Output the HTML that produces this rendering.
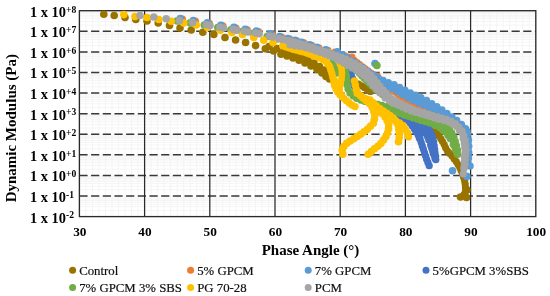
<!DOCTYPE html>
<html><head><meta charset="utf-8"><style>
html,body{margin:0;padding:0;background:#fff;width:550px;height:296px;overflow:hidden}
svg{display:block}
text{font-family:"Liberation Serif","Times New Roman",serif;fill:#000}
.tk{font-size:14.4px;font-weight:bold}
.sup{font-size:9.6px}
.tx{font-size:13.3px;font-weight:bold}
.ttl{font-size:15px;font-weight:bold}
.lg{font-size:12.8px;fill:#111;stroke:#111;stroke-width:0.2px}
</style></head><body>
<svg width="550" height="296" viewBox="0 0 550 296">
<rect width="550" height="296" fill="#fff"/>
<path d="M85.92 10.70V216.60M92.44 10.70V216.60M98.96 10.70V216.60M105.48 10.70V216.60M112.00 10.70V216.60M118.52 10.70V216.60M125.04 10.70V216.60M131.56 10.70V216.60M138.08 10.70V216.60M151.12 10.70V216.60M157.64 10.70V216.60M164.16 10.70V216.60M170.68 10.70V216.60M177.20 10.70V216.60M183.72 10.70V216.60M190.24 10.70V216.60M196.76 10.70V216.60M203.28 10.70V216.60M216.32 10.70V216.60M222.84 10.70V216.60M229.36 10.70V216.60M235.88 10.70V216.60M242.40 10.70V216.60M248.92 10.70V216.60M255.44 10.70V216.60M261.96 10.70V216.60M268.48 10.70V216.60M281.52 10.70V216.60M288.04 10.70V216.60M294.56 10.70V216.60M301.08 10.70V216.60M307.60 10.70V216.60M314.12 10.70V216.60M320.64 10.70V216.60M327.16 10.70V216.60M333.68 10.70V216.60M346.72 10.70V216.60M353.24 10.70V216.60M359.76 10.70V216.60M366.28 10.70V216.60M372.80 10.70V216.60M379.32 10.70V216.60M385.84 10.70V216.60M392.36 10.70V216.60M398.88 10.70V216.60M411.92 10.70V216.60M418.44 10.70V216.60M424.96 10.70V216.60M431.48 10.70V216.60M438.00 10.70V216.60M444.52 10.70V216.60M451.04 10.70V216.60M457.56 10.70V216.60M464.08 10.70V216.60M477.12 10.70V216.60M483.64 10.70V216.60M490.16 10.70V216.60M496.68 10.70V216.60M503.20 10.70V216.60M509.72 10.70V216.60M516.24 10.70V216.60M522.76 10.70V216.60M529.28 10.70V216.60M79.40 210.40H535.80M79.40 206.78H535.80M79.40 204.20H535.80M79.40 202.21H535.80M79.40 200.58H535.80M79.40 199.20H535.80M79.40 198.01H535.80M79.40 196.95H535.80M79.40 189.81H535.80M79.40 186.19H535.80M79.40 183.61H535.80M79.40 181.62H535.80M79.40 179.99H535.80M79.40 178.61H535.80M79.40 177.42H535.80M79.40 176.36H535.80M79.40 169.22H535.80M79.40 165.60H535.80M79.40 163.02H535.80M79.40 161.03H535.80M79.40 159.40H535.80M79.40 158.02H535.80M79.40 156.83H535.80M79.40 155.77H535.80M79.40 148.63H535.80M79.40 145.01H535.80M79.40 142.43H535.80M79.40 140.44H535.80M79.40 138.81H535.80M79.40 137.43H535.80M79.40 136.24H535.80M79.40 135.18H535.80M79.40 128.04H535.80M79.40 124.42H535.80M79.40 121.84H535.80M79.40 119.85H535.80M79.40 118.22H535.80M79.40 116.84H535.80M79.40 115.65H535.80M79.40 114.59H535.80M79.40 107.45H535.80M79.40 103.83H535.80M79.40 101.25H535.80M79.40 99.26H535.80M79.40 97.63H535.80M79.40 96.25H535.80M79.40 95.06H535.80M79.40 94.00H535.80M79.40 86.86H535.80M79.40 83.24H535.80M79.40 80.66H535.80M79.40 78.67H535.80M79.40 77.04H535.80M79.40 75.66H535.80M79.40 74.47H535.80M79.40 73.41H535.80M79.40 66.27H535.80M79.40 62.65H535.80M79.40 60.07H535.80M79.40 58.08H535.80M79.40 56.45H535.80M79.40 55.07H535.80M79.40 53.88H535.80M79.40 52.82H535.80M79.40 45.68H535.80M79.40 42.06H535.80M79.40 39.48H535.80M79.40 37.49H535.80M79.40 35.86H535.80M79.40 34.48H535.80M79.40 33.29H535.80M79.40 32.23H535.80M79.40 25.09H535.80M79.40 21.47H535.80M79.40 18.89H535.80M79.40 16.90H535.80M79.40 15.27H535.80M79.40 13.89H535.80M79.40 12.70H535.80M79.40 11.64H535.80" stroke="#f2f2f2" stroke-width="0.8" fill="none"/><path d="M79.40 196.01H535.80M79.40 175.42H535.80M79.40 154.83H535.80M79.40 134.24H535.80M79.40 113.65H535.80M79.40 93.06H535.80M79.40 72.47H535.80M79.40 51.88H535.80M79.40 31.29H535.80" stroke="#383838" stroke-width="1.5" stroke-dasharray="8.2 3.48" fill="none"/><path d="M144.60 10.70V216.60M209.80 10.70V216.60M275.00 10.70V216.60M340.20 10.70V216.60M405.40 10.70V216.60M470.60 10.70V216.60" stroke="#2a2a2a" stroke-width="1.25" fill="none"/><rect x="79.40" y="10.70" width="456.40" height="205.90" stroke="#2a2a2a" stroke-width="1.35" fill="none"/><g fill="#997300"><circle cx="103.8" cy="14.2" r="3.8"/><circle cx="114.2" cy="15.5" r="3.8"/><circle cx="125.0" cy="17.5" r="3.8"/><circle cx="135.8" cy="19.5" r="3.8"/><circle cx="147.0" cy="21.0" r="3.8"/><circle cx="158.2" cy="23.0" r="3.8"/><circle cx="169.5" cy="25.5" r="3.8"/><circle cx="180.0" cy="28.0" r="3.8"/><circle cx="191.2" cy="30.0" r="3.8"/><circle cx="202.8" cy="32.2" r="3.8"/><circle cx="213.8" cy="34.4" r="3.8"/><circle cx="225.0" cy="37.5" r="3.8"/><circle cx="235.6" cy="40.0" r="3.8"/><circle cx="245.6" cy="42.5" r="3.8"/><circle cx="255.6" cy="45.6" r="3.8"/><circle cx="265.3" cy="48.7" r="3.8"/><circle cx="273.5" cy="51.0" r="3.8"/><circle cx="281.0" cy="54.3" r="3.8"/><circle cx="287.0" cy="56.0" r="3.8"/><circle cx="293.0" cy="58.0" r="3.8"/><circle cx="299.0" cy="60.3" r="3.8"/><circle cx="305.0" cy="63.0" r="3.8"/><circle cx="311.0" cy="66.0" r="3.8"/><circle cx="317.0" cy="69.5" r="3.8"/><circle cx="322.0" cy="73.0" r="3.8"/><circle cx="326.0" cy="76.5" r="3.8"/><circle cx="329.5" cy="79.0" r="3.8"/><circle cx="269.0" cy="46.5" r="3.8"/><circle cx="277.0" cy="48.5" r="3.8"/><circle cx="284.0" cy="50.5" r="3.8"/><circle cx="290.0" cy="52.3" r="3.8"/><circle cx="296.0" cy="54.3" r="3.8"/><circle cx="302.0" cy="56.8" r="3.8"/><circle cx="308.0" cy="59.8" r="3.8"/><circle cx="314.0" cy="63.0" r="3.8"/><circle cx="319.5" cy="66.5" r="3.8"/><circle cx="324.0" cy="70.0" r="3.8"/><circle cx="328.0" cy="74.0" r="3.8"/><circle cx="358.5" cy="84.0" r="3.6"/><circle cx="361.5" cy="85.8" r="3.6"/><circle cx="364.5" cy="87.7" r="3.6"/><circle cx="367.4" cy="89.6" r="3.6"/><circle cx="370.4" cy="91.4" r="3.6"/><circle cx="398.0" cy="118.0" r="3.6"/><circle cx="401.4" cy="118.9" r="3.6"/><circle cx="404.8" cy="119.8" r="3.6"/><circle cx="408.1" cy="120.7" r="3.6"/><circle cx="411.5" cy="121.6" r="3.6"/><circle cx="414.9" cy="122.5" r="3.6"/><circle cx="418.3" cy="123.5" r="3.6"/><circle cx="421.6" cy="124.5" r="3.6"/><circle cx="424.9" cy="125.6" r="3.6"/><circle cx="428.2" cy="126.9" r="3.6"/><circle cx="431.4" cy="128.3" r="3.6"/><circle cx="434.1" cy="130.4" r="3.6"/><circle cx="436.7" cy="132.8" r="3.6"/><circle cx="438.7" cy="135.7" r="3.6"/><circle cx="440.7" cy="138.6" r="3.6"/><circle cx="442.5" cy="141.5" r="3.6"/><circle cx="444.2" cy="144.6" r="3.6"/><circle cx="445.6" cy="147.8" r="3.6"/><circle cx="447.3" cy="150.8" r="3.6"/><circle cx="449.6" cy="153.4" r="3.6"/><circle cx="452.0" cy="156.0" r="3.6"/><circle cx="454.1" cy="158.8" r="3.6"/><circle cx="456.2" cy="161.6" r="3.6"/><circle cx="458.0" cy="164.6" r="3.6"/><circle cx="459.8" cy="167.6" r="3.6"/><circle cx="461.2" cy="170.8" r="3.6"/><circle cx="462.5" cy="174.0" r="3.6"/><circle cx="463.6" cy="177.3" r="3.6"/><circle cx="464.6" cy="180.7" r="3.6"/><circle cx="465.2" cy="184.1" r="3.6"/><circle cx="465.5" cy="187.6" r="3.6"/><circle cx="465.5" cy="191.1" r="3.6"/><circle cx="464.2" cy="194.3" r="3.6"/><circle cx="460.5" cy="197.0" r="3.8"/><circle cx="466.5" cy="197.5" r="3.8"/><circle cx="467.0" cy="190.0" r="3.8"/></g><g fill="#ED7D31"><circle cx="352.0" cy="56.8" r="3.4"/><circle cx="377.5" cy="76.0" r="3.4"/><circle cx="182.3" cy="19.3" r="3.8"/><circle cx="195.3" cy="21.3" r="3.8"/><circle cx="209.3" cy="23.6" r="3.8"/><circle cx="222.8" cy="26.0" r="3.8"/><circle cx="235.9" cy="28.2" r="3.8"/><circle cx="247.2" cy="30.1" r="3.8"/><circle cx="258.4" cy="31.8" r="3.8"/><circle cx="272.2" cy="34.9" r="3.8"/><circle cx="281.6" cy="37.4" r="3.8"/><circle cx="289.8" cy="39.3" r="3.8"/><circle cx="297.2" cy="41.2" r="3.8"/><circle cx="303.8" cy="43.0" r="3.8"/><circle cx="311.6" cy="45.5" r="3.8"/><circle cx="318.8" cy="48.0" r="3.8"/><circle cx="327.8" cy="50.5" r="3.8"/><circle cx="335.0" cy="52.0" r="3.6"/><circle cx="338.2" cy="53.3" r="3.6"/><circle cx="341.5" cy="54.6" r="3.6"/><circle cx="344.7" cy="55.9" r="3.6"/><circle cx="348.0" cy="57.2" r="3.6"/><circle cx="351.2" cy="58.5" r="3.6"/><circle cx="354.2" cy="60.3" r="3.6"/><circle cx="357.0" cy="62.5" r="3.6"/><circle cx="359.7" cy="64.6" r="3.6"/><circle cx="362.5" cy="66.8" r="3.6"/><circle cx="365.2" cy="68.9" r="3.6"/><circle cx="368.1" cy="71.0" r="3.6"/><circle cx="370.9" cy="73.0" r="3.6"/><circle cx="373.8" cy="75.0" r="3.6"/><circle cx="376.6" cy="77.0" r="3.6"/><circle cx="379.4" cy="79.2" r="3.6"/><circle cx="382.1" cy="81.4" r="3.6"/><circle cx="384.8" cy="83.7" r="3.6"/><circle cx="387.5" cy="85.9" r="3.6"/><circle cx="390.2" cy="88.1" r="3.6"/><circle cx="392.9" cy="90.3" r="3.6"/><circle cx="395.7" cy="92.5" r="3.6"/><circle cx="398.4" cy="94.6" r="3.6"/><circle cx="401.2" cy="96.8" r="3.6"/><circle cx="403.9" cy="98.9" r="3.6"/><circle cx="407.1" cy="100.4" r="3.6"/><circle cx="410.3" cy="101.8" r="3.6"/><circle cx="413.5" cy="103.2" r="3.6"/><circle cx="416.8" cy="104.6" r="3.6"/><circle cx="420.0" cy="106.0" r="3.6"/><circle cx="423.2" cy="107.3" r="3.6"/><circle cx="426.5" cy="108.6" r="3.6"/><circle cx="429.7" cy="109.9" r="3.6"/><circle cx="433.0" cy="111.2" r="3.6"/><circle cx="436.2" cy="112.5" r="3.6"/><circle cx="439.5" cy="113.8" r="3.6"/><circle cx="442.6" cy="115.2" r="3.6"/><circle cx="445.8" cy="116.7" r="3.6"/><circle cx="449.0" cy="118.2" r="3.6"/><circle cx="452.2" cy="119.7" r="3.6"/><circle cx="455.2" cy="121.3" r="3.6"/><circle cx="457.4" cy="124.0" r="3.6"/><circle cx="459.5" cy="126.8" r="3.6"/><circle cx="461.7" cy="129.6" r="3.6"/><circle cx="462.9" cy="132.8" r="3.6"/><circle cx="463.9" cy="136.2" r="3.6"/><circle cx="464.9" cy="139.5" r="3.6"/><circle cx="465.2" cy="143.0" r="3.6"/><circle cx="465.3" cy="146.5" r="3.6"/><circle cx="465.5" cy="150.0" r="3.6"/><circle cx="465.2" cy="153.5" r="3.6"/><circle cx="464.8" cy="157.0" r="3.6"/></g><g fill="#5B9BD5"><circle cx="180.3" cy="18.5" r="3.8"/><circle cx="193.3" cy="20.5" r="3.8"/><circle cx="207.3" cy="22.8" r="3.8"/><circle cx="220.8" cy="25.2" r="3.8"/><circle cx="233.9" cy="27.4" r="3.8"/><circle cx="245.2" cy="29.2" r="3.8"/><circle cx="256.4" cy="31.0" r="3.8"/><circle cx="270.2" cy="34.1" r="3.8"/><circle cx="279.6" cy="36.6" r="3.8"/><circle cx="287.8" cy="38.5" r="3.8"/><circle cx="295.2" cy="40.4" r="3.8"/><circle cx="301.8" cy="42.2" r="3.8"/><circle cx="309.6" cy="44.8" r="3.8"/><circle cx="316.8" cy="47.2" r="3.8"/><circle cx="325.8" cy="49.8" r="3.8"/><circle cx="337.5" cy="51.5" r="3.6"/><circle cx="342.6" cy="54.6" r="3.6"/><circle cx="347.7" cy="57.8" r="3.6"/><circle cx="352.8" cy="61.0" r="3.6"/><circle cx="357.8" cy="64.3" r="3.6"/><circle cx="362.8" cy="67.6" r="3.6"/><circle cx="367.8" cy="71.0" r="3.6"/><circle cx="372.8" cy="74.3" r="3.6"/><circle cx="374.8" cy="76.6" r="3.6"/><circle cx="377.8" cy="77.5" r="3.6"/><circle cx="379.6" cy="80.2" r="3.6"/><circle cx="383.1" cy="80.4" r="3.6"/><circle cx="384.2" cy="84.1" r="3.6"/><circle cx="388.4" cy="82.6" r="3.6"/><circle cx="389.7" cy="87.0" r="3.6"/><circle cx="394.1" cy="84.6" r="3.6"/><circle cx="395.9" cy="87.9" r="3.6"/><circle cx="392.3" cy="88.7" r="3.6"/><circle cx="399.7" cy="87.3" r="3.6"/><circle cx="401.1" cy="90.9" r="3.6"/><circle cx="397.3" cy="91.7" r="3.6"/><circle cx="405.0" cy="90.1" r="3.6"/><circle cx="406.3" cy="93.9" r="3.6"/><circle cx="402.4" cy="94.7" r="3.6"/><circle cx="410.3" cy="92.9" r="3.6"/><circle cx="411.6" cy="96.8" r="3.6"/><circle cx="407.6" cy="97.8" r="3.6"/><circle cx="415.5" cy="95.2" r="3.6"/><circle cx="417.1" cy="99.1" r="3.6"/><circle cx="413.3" cy="100.6" r="3.6"/><circle cx="421.0" cy="97.5" r="3.6"/><circle cx="422.7" cy="101.4" r="3.6"/><circle cx="418.8" cy="102.9" r="3.6"/><circle cx="426.6" cy="100.3" r="3.6"/><circle cx="428.0" cy="104.2" r="3.6"/><circle cx="424.0" cy="105.2" r="3.6"/><circle cx="431.8" cy="103.5" r="3.6"/><circle cx="433.3" cy="107.0" r="3.6"/><circle cx="429.5" cy="107.7" r="3.6"/><circle cx="436.9" cy="106.6" r="3.6"/><circle cx="438.6" cy="109.8" r="3.6"/><circle cx="435.0" cy="110.2" r="3.6"/><circle cx="442.0" cy="109.9" r="3.6"/><circle cx="442.7" cy="114.5" r="3.6"/><circle cx="447.0" cy="113.3" r="3.6"/><circle cx="447.9" cy="117.5" r="3.6"/><circle cx="452.0" cy="116.8" r="3.6"/><circle cx="452.9" cy="120.7" r="3.6"/><circle cx="456.8" cy="120.4" r="3.6"/><circle cx="458.0" cy="123.9" r="3.6"/><circle cx="461.5" cy="124.3" r="3.6"/><circle cx="462.6" cy="127.5" r="3.6"/><circle cx="465.7" cy="128.6" r="3.6"/><circle cx="467.2" cy="131.3" r="3.6"/><circle cx="467.6" cy="134.3" r="3.6"/><circle cx="468.6" cy="140.2" r="3.6"/><circle cx="468.9" cy="146.2" r="3.6"/><circle cx="468.8" cy="152.2" r="3.6"/><circle cx="468.5" cy="158.2" r="3.6"/><circle cx="468.2" cy="164.2" r="3.6"/><circle cx="375.0" cy="63.6" r="3.8"/><circle cx="452.5" cy="170.8" r="3.8"/><circle cx="470.0" cy="166.0" r="3.8"/><circle cx="466.9" cy="176.4" r="3.8"/></g><g fill="#4472C4"><circle cx="350.0" cy="72.0" r="3.6"/><circle cx="351.3" cy="75.2" r="3.6"/><circle cx="352.6" cy="78.5" r="3.6"/><circle cx="353.2" cy="81.9" r="3.6"/><circle cx="353.9" cy="85.4" r="3.6"/><circle cx="355.3" cy="88.6" r="3.6"/><circle cx="356.8" cy="91.7" r="3.6"/><circle cx="358.7" cy="94.6" r="3.6"/><circle cx="361.3" cy="96.9" r="3.6"/><circle cx="364.0" cy="99.2" r="3.6"/><circle cx="366.7" cy="101.4" r="3.6"/><circle cx="369.8" cy="102.9" r="3.6"/><circle cx="373.0" cy="104.5" r="3.6"/><circle cx="376.1" cy="106.0" r="3.6"/><circle cx="379.2" cy="107.6" r="3.6"/><circle cx="382.4" cy="109.1" r="3.6"/><circle cx="385.6" cy="110.5" r="3.6"/><circle cx="388.8" cy="112.0" r="3.6"/><circle cx="392.1" cy="113.2" r="3.6"/><circle cx="395.4" cy="114.3" r="3.6"/><circle cx="398.7" cy="115.5" r="3.6"/><circle cx="401.9" cy="116.8" r="3.6"/><circle cx="405.3" cy="117.7" r="3.6"/><circle cx="406.7" cy="119.0" r="3.6"/><circle cx="408.6" cy="118.8" r="3.6"/><circle cx="409.8" cy="120.6" r="3.6"/><circle cx="404.2" cy="117.1" r="3.6"/><circle cx="405.4" cy="118.6" r="3.6"/><circle cx="407.4" cy="118.4" r="3.6"/><circle cx="408.4" cy="120.5" r="3.6"/><circle cx="410.6" cy="120.5" r="3.6"/><circle cx="410.2" cy="123.1" r="3.6"/><circle cx="413.0" cy="123.1" r="3.6"/><circle cx="412.2" cy="126.0" r="3.6"/><circle cx="415.3" cy="125.8" r="3.6"/><circle cx="414.2" cy="128.8" r="3.6"/><circle cx="416.9" cy="129.1" r="3.6"/><circle cx="415.9" cy="131.7" r="3.6"/><circle cx="418.4" cy="132.3" r="3.6"/><circle cx="417.9" cy="134.5" r="3.6"/><circle cx="419.5" cy="135.7" r="3.6"/><circle cx="419.2" cy="137.7" r="3.6"/><circle cx="420.1" cy="139.2" r="3.6"/><circle cx="421.2" cy="142.5" r="3.6"/><circle cx="422.3" cy="145.9" r="3.6"/><circle cx="423.4" cy="149.2" r="3.6"/><circle cx="424.5" cy="152.5" r="3.6"/><circle cx="425.5" cy="155.8" r="3.6"/><circle cx="426.6" cy="159.2" r="3.6"/><circle cx="427.9" cy="162.4" r="3.6"/><circle cx="429.2" cy="165.7" r="3.6"/><circle cx="410.3" cy="117.2" r="3.6"/><circle cx="411.3" cy="119.5" r="3.6"/><circle cx="413.6" cy="118.4" r="3.6"/><circle cx="414.6" cy="120.7" r="3.6"/><circle cx="416.9" cy="119.6" r="3.6"/><circle cx="417.9" cy="121.9" r="3.6"/><circle cx="420.2" cy="121.4" r="3.6"/><circle cx="420.1" cy="124.3" r="3.6"/><circle cx="423.1" cy="123.4" r="3.6"/><circle cx="422.5" cy="126.8" r="3.6"/><circle cx="426.0" cy="125.4" r="3.6"/><circle cx="424.9" cy="129.4" r="3.6"/><circle cx="428.4" cy="128.8" r="3.6"/><circle cx="427.4" cy="131.3" r="3.6"/><circle cx="424.8" cy="130.8" r="3.6"/><circle cx="430.3" cy="131.8" r="3.6"/><circle cx="429.2" cy="134.4" r="3.6"/><circle cx="426.3" cy="134.0" r="3.6"/><circle cx="432.0" cy="135.3" r="3.6"/><circle cx="430.3" cy="137.7" r="3.6"/><circle cx="427.6" cy="136.7" r="3.6"/><circle cx="432.9" cy="138.7" r="3.6"/><circle cx="431.4" cy="141.0" r="3.6"/><circle cx="428.8" cy="140.0" r="3.6"/><circle cx="433.7" cy="142.1" r="3.6"/><circle cx="430.6" cy="144.9" r="3.6"/><circle cx="434.2" cy="145.8" r="3.6"/><circle cx="431.6" cy="148.1" r="3.6"/><circle cx="434.6" cy="149.3" r="3.6"/><circle cx="432.7" cy="151.5" r="3.6"/><circle cx="435.0" cy="152.7" r="3.6"/><circle cx="433.9" cy="154.8" r="3.6"/><circle cx="435.6" cy="156.2" r="3.6"/><circle cx="435.0" cy="158.2" r="3.6"/><circle cx="435.8" cy="159.7" r="3.6"/></g><g fill="#70AD47"><circle cx="177.3" cy="20.9" r="3.8"/><circle cx="190.3" cy="22.9" r="3.8"/><circle cx="204.3" cy="25.1" r="3.8"/><circle cx="217.8" cy="27.6" r="3.8"/><circle cx="230.9" cy="29.8" r="3.8"/><circle cx="242.2" cy="31.6" r="3.8"/><circle cx="253.4" cy="33.4" r="3.8"/><circle cx="267.2" cy="36.5" r="3.8"/><circle cx="276.6" cy="39.0" r="3.8"/><circle cx="284.8" cy="40.9" r="3.8"/><circle cx="292.2" cy="42.8" r="3.8"/><circle cx="298.8" cy="44.6" r="3.8"/><circle cx="306.6" cy="47.1" r="3.8"/><circle cx="313.8" cy="49.6" r="3.8"/><circle cx="322.8" cy="52.1" r="3.8"/><circle cx="333.0" cy="60.0" r="3.6"/><circle cx="335.6" cy="63.5" r="3.6"/><circle cx="339.3" cy="66.0" r="3.6"/><circle cx="342.7" cy="68.7" r="3.6"/><circle cx="345.8" cy="71.8" r="3.6"/><circle cx="346.5" cy="76.1" r="3.6"/><circle cx="347.0" cy="80.4" r="3.6"/><circle cx="347.0" cy="84.8" r="3.6"/><circle cx="348.0" cy="89.1" r="3.6"/><circle cx="350.0" cy="92.9" r="3.6"/><circle cx="353.2" cy="95.9" r="3.6"/><circle cx="356.7" cy="98.5" r="3.6"/><circle cx="360.8" cy="100.1" r="3.6"/><circle cx="364.9" cy="101.5" r="3.6"/><circle cx="369.2" cy="102.4" r="3.6"/><circle cx="371.2" cy="103.6" r="3.6"/><circle cx="373.5" cy="103.4" r="3.6"/><circle cx="375.4" cy="104.9" r="3.6"/><circle cx="377.8" cy="104.4" r="3.6"/><circle cx="379.6" cy="106.3" r="3.6"/><circle cx="382.1" cy="105.4" r="3.6"/><circle cx="383.8" cy="107.6" r="3.6"/><circle cx="386.4" cy="106.7" r="3.6"/><circle cx="387.9" cy="109.1" r="3.6"/><circle cx="390.5" cy="108.1" r="3.6"/><circle cx="392.1" cy="110.5" r="3.6"/><circle cx="394.7" cy="109.5" r="3.6"/><circle cx="396.2" cy="111.9" r="3.6"/><circle cx="398.9" cy="111.1" r="3.6"/><circle cx="400.2" cy="113.6" r="3.6"/><circle cx="402.9" cy="112.7" r="3.6"/><circle cx="404.3" cy="115.2" r="3.6"/><circle cx="407.0" cy="114.1" r="3.6"/><circle cx="408.6" cy="116.5" r="3.6"/><circle cx="411.3" cy="115.1" r="3.6"/><circle cx="412.8" cy="117.8" r="3.6"/><circle cx="415.6" cy="116.2" r="3.6"/><circle cx="417.0" cy="119.1" r="3.6"/><circle cx="419.8" cy="117.3" r="3.6"/><circle cx="421.2" cy="120.4" r="3.6"/><circle cx="424.1" cy="118.3" r="3.6"/><circle cx="425.5" cy="121.7" r="3.6"/><circle cx="428.4" cy="119.3" r="3.6"/><circle cx="429.7" cy="123.0" r="3.6"/><circle cx="432.7" cy="120.3" r="3.6"/><circle cx="433.9" cy="124.3" r="3.6"/><circle cx="437.2" cy="121.6" r="3.6"/><circle cx="438.4" cy="124.4" r="3.6"/><circle cx="435.5" cy="125.4" r="3.6"/><circle cx="441.3" cy="123.1" r="3.6"/><circle cx="442.4" cy="126.1" r="3.6"/><circle cx="439.5" cy="127.4" r="3.6"/><circle cx="445.5" cy="125.7" r="3.6"/><circle cx="445.7" cy="129.1" r="3.6"/><circle cx="442.5" cy="129.7" r="3.6"/><circle cx="449.5" cy="129.1" r="3.6"/><circle cx="448.6" cy="132.3" r="3.6"/><circle cx="445.2" cy="132.0" r="3.6"/><circle cx="451.8" cy="132.8" r="3.6"/><circle cx="451.1" cy="135.9" r="3.6"/><circle cx="447.9" cy="135.5" r="3.6"/><circle cx="454.0" cy="137.1" r="3.6"/><circle cx="453.0" cy="139.9" r="3.6"/><circle cx="450.2" cy="138.7" r="3.6"/><circle cx="455.3" cy="141.3" r="3.6"/><circle cx="453.2" cy="144.6" r="3.6"/><circle cx="456.5" cy="145.6" r="3.6"/><circle cx="455.2" cy="148.5" r="3.6"/><circle cx="457.6" cy="150.1" r="3.6"/><circle cx="456.7" cy="152.4" r="3.6"/><circle cx="457.6" cy="154.5" r="3.6"/><circle cx="352.0" cy="66.0" r="3.4"/><circle cx="354.5" cy="68.5" r="3.4"/><circle cx="356.9" cy="70.9" r="3.4"/><circle cx="359.3" cy="73.5" r="3.4"/><circle cx="361.7" cy="76.1" r="3.4"/><circle cx="364.1" cy="78.6" r="3.4"/><circle cx="366.6" cy="81.1" r="3.4"/><circle cx="369.1" cy="83.5" r="3.4"/><circle cx="371.7" cy="85.9" r="3.4"/><circle cx="374.3" cy="88.2" r="3.4"/><circle cx="377.0" cy="90.5" r="3.4"/><circle cx="379.7" cy="92.7" r="3.4"/><circle cx="382.5" cy="94.7" r="3.4"/><circle cx="385.5" cy="96.6" r="3.4"/><circle cx="333.5" cy="59.0" r="3.2"/><circle cx="334.6" cy="61.8" r="3.2"/><circle cx="335.6" cy="64.6" r="3.2"/><circle cx="336.1" cy="67.6" r="3.2"/><circle cx="336.5" cy="70.5" r="3.2"/><circle cx="336.8" cy="73.5" r="3.2"/><circle cx="376.9" cy="65.5" r="3.8"/></g><g fill="#FFC000"><circle cx="123.8" cy="14.6" r="3.8"/><circle cx="135.0" cy="16.5" r="3.8"/><circle cx="147.0" cy="17.5" r="3.8"/><circle cx="158.8" cy="19.5" r="3.8"/><circle cx="171.2" cy="21.2" r="3.8"/><circle cx="183.8" cy="23.0" r="3.8"/><circle cx="196.2" cy="25.0" r="3.8"/><circle cx="207.5" cy="27.5" r="3.8"/><circle cx="220.3" cy="30.3" r="3.8"/><circle cx="231.9" cy="32.5" r="3.8"/><circle cx="242.5" cy="34.4" r="3.8"/><circle cx="253.8" cy="37.5" r="3.8"/><circle cx="263.7" cy="40.3" r="3.8"/><circle cx="273.0" cy="42.4" r="3.8"/><circle cx="283.0" cy="45.5" r="3.8"/><circle cx="283.0" cy="46.0" r="3.6"/><circle cx="286.3" cy="47.1" r="3.6"/><circle cx="289.6" cy="48.2" r="3.6"/><circle cx="293.0" cy="49.3" r="3.6"/><circle cx="296.4" cy="50.2" r="3.6"/><circle cx="299.7" cy="51.1" r="3.6"/><circle cx="303.1" cy="52.0" r="3.6"/><circle cx="306.5" cy="53.0" r="3.6"/><circle cx="309.8" cy="54.2" r="3.6"/><circle cx="313.0" cy="55.4" r="3.6"/><circle cx="316.3" cy="56.6" r="3.6"/><circle cx="319.6" cy="58.0" r="3.6"/><circle cx="322.7" cy="59.4" r="3.6"/><circle cx="325.6" cy="61.3" r="3.6"/><circle cx="327.8" cy="64.0" r="3.6"/><circle cx="329.8" cy="66.8" r="3.6"/><circle cx="330.9" cy="70.2" r="3.6"/><circle cx="331.9" cy="73.5" r="3.6"/><circle cx="332.7" cy="76.9" r="3.6"/><circle cx="334.3" cy="80.1" r="3.6"/><circle cx="333.7" cy="82.1" r="3.6"/><circle cx="335.8" cy="83.3" r="3.6"/><circle cx="334.5" cy="85.5" r="3.6"/><circle cx="337.1" cy="86.5" r="3.6"/><circle cx="335.9" cy="88.8" r="3.6"/><circle cx="338.4" cy="89.5" r="3.6"/><circle cx="337.7" cy="92.0" r="3.6"/><circle cx="339.8" cy="92.7" r="3.6"/><circle cx="339.9" cy="94.8" r="3.6"/><circle cx="341.8" cy="95.5" r="3.6"/><circle cx="342.5" cy="97.2" r="3.6"/><circle cx="343.9" cy="98.3" r="3.6"/><circle cx="346.4" cy="100.7" r="3.6"/><circle cx="349.2" cy="102.9" r="3.6"/><circle cx="351.9" cy="105.1" r="3.6"/><circle cx="355.1" cy="106.6" r="3.6"/><circle cx="338.5" cy="61.0" r="3.4"/><circle cx="339.9" cy="63.9" r="3.4"/><circle cx="341.1" cy="66.8" r="3.4"/><circle cx="341.7" cy="70.0" r="3.4"/><circle cx="341.9" cy="73.1" r="3.4"/><circle cx="341.7" cy="76.3" r="3.4"/><circle cx="341.4" cy="79.5" r="3.4"/><circle cx="340.7" cy="82.6" r="3.4"/><circle cx="340.1" cy="85.8" r="3.4"/><circle cx="339.7" cy="88.9" r="3.4"/><circle cx="354.5" cy="81.0" r="3.8"/><circle cx="355.3" cy="85.1" r="3.8"/><circle cx="356.2" cy="89.2" r="3.8"/><circle cx="357.3" cy="93.2" r="3.8"/><circle cx="360.6" cy="95.7" r="3.8"/><circle cx="364.0" cy="98.2" r="3.8"/><circle cx="367.4" cy="100.7" r="3.8"/><circle cx="370.4" cy="103.4" r="3.8"/><circle cx="372.2" cy="107.3" r="3.8"/><circle cx="373.7" cy="111.2" r="3.8"/><circle cx="374.9" cy="115.2" r="3.8"/><circle cx="374.4" cy="119.3" r="3.8"/><circle cx="373.4" cy="123.3" r="3.8"/><circle cx="370.4" cy="126.3" r="3.8"/><circle cx="367.4" cy="129.2" r="3.8"/><circle cx="364.1" cy="131.8" r="3.8"/><circle cx="360.6" cy="134.2" r="3.8"/><circle cx="357.2" cy="136.5" r="3.8"/><circle cx="353.7" cy="138.8" r="3.8"/><circle cx="350.1" cy="141.1" r="3.8"/><circle cx="346.6" cy="143.4" r="3.8"/><circle cx="343.8" cy="146.5" r="3.8"/><circle cx="342.2" cy="150.0" r="3.8"/><circle cx="342.8" cy="154.2" r="3.8"/><circle cx="363.0" cy="98.0" r="3.8"/><circle cx="366.2" cy="100.7" r="3.8"/><circle cx="369.4" cy="103.5" r="3.8"/><circle cx="372.8" cy="105.8" r="3.8"/><circle cx="376.4" cy="108.1" r="3.8"/><circle cx="379.5" cy="110.8" r="3.8"/><circle cx="382.6" cy="113.7" r="3.8"/><circle cx="385.1" cy="117.1" r="3.8"/><circle cx="387.2" cy="120.7" r="3.8"/><circle cx="388.6" cy="124.7" r="3.8"/><circle cx="388.5" cy="128.7" r="3.8"/><circle cx="387.6" cy="132.8" r="3.8"/><circle cx="385.9" cy="136.6" r="3.8"/><circle cx="383.5" cy="140.1" r="3.8"/><circle cx="380.9" cy="143.4" r="3.8"/><circle cx="377.8" cy="146.2" r="3.8"/><circle cx="374.5" cy="148.8" r="3.8"/><circle cx="371.3" cy="151.5" r="3.8"/><circle cx="368.2" cy="154.3" r="3.8"/><circle cx="366.0" cy="99.0" r="3.8"/><circle cx="369.4" cy="101.4" r="3.8"/><circle cx="372.8" cy="103.9" r="3.8"/><circle cx="376.3" cy="106.3" r="3.8"/><circle cx="379.8" cy="108.6" r="3.8"/><circle cx="383.3" cy="111.0" r="3.8"/><circle cx="386.8" cy="113.2" r="3.8"/><circle cx="390.2" cy="115.7" r="3.8"/><circle cx="393.5" cy="118.3" r="3.8"/><circle cx="396.1" cy="121.5" r="3.8"/><circle cx="398.1" cy="125.2" r="3.8"/><circle cx="398.8" cy="129.3" r="3.8"/><circle cx="399.2" cy="133.4" r="3.8"/><circle cx="399.2" cy="137.6" r="3.8"/><circle cx="398.5" cy="141.8" r="3.8"/><circle cx="370.0" cy="100.0" r="3.8"/><circle cx="373.2" cy="102.8" r="3.8"/><circle cx="376.1" cy="105.8" r="3.8"/><circle cx="378.9" cy="108.9" r="3.8"/><circle cx="382.0" cy="111.7" r="3.8"/><circle cx="385.2" cy="114.4" r="3.8"/><circle cx="388.7" cy="116.8" r="3.8"/><circle cx="392.2" cy="119.1" r="3.8"/><circle cx="395.9" cy="121.0" r="3.8"/><circle cx="399.5" cy="123.1" r="3.8"/><circle cx="402.9" cy="125.6" r="3.8"/><circle cx="405.1" cy="129.2" r="3.8"/><circle cx="407.3" cy="132.7" r="3.8"/><circle cx="408.4" cy="136.8" r="3.8"/></g><g fill="#A5A5A5"><circle cx="210.0" cy="25.6" r="3.8"/><circle cx="223.5" cy="28.0" r="3.8"/><circle cx="236.6" cy="30.2" r="3.8"/><circle cx="247.9" cy="32.0" r="3.8"/><circle cx="259.1" cy="33.8" r="3.8"/><circle cx="272.9" cy="36.9" r="3.8"/><circle cx="282.2" cy="39.4" r="3.8"/><circle cx="290.5" cy="41.3" r="3.8"/><circle cx="297.9" cy="43.2" r="3.8"/><circle cx="304.5" cy="45.0" r="3.8"/><circle cx="312.2" cy="47.5" r="3.8"/><circle cx="319.5" cy="50.0" r="3.8"/><circle cx="328.5" cy="52.5" r="3.8"/><circle cx="140.0" cy="15.5" r="3.8"/><circle cx="153.8" cy="17.0" r="3.8"/><circle cx="166.2" cy="18.8" r="3.8"/><circle cx="179.5" cy="20.5" r="3.8"/><circle cx="192.5" cy="22.5" r="3.8"/><circle cx="206.5" cy="24.8" r="3.8"/><circle cx="220.0" cy="27.2" r="3.8"/><circle cx="233.1" cy="29.4" r="3.8"/><circle cx="244.4" cy="31.2" r="3.8"/><circle cx="255.6" cy="33.0" r="3.8"/><circle cx="269.4" cy="36.1" r="3.8"/><circle cx="278.8" cy="38.6" r="3.8"/><circle cx="287.0" cy="40.5" r="3.8"/><circle cx="294.4" cy="42.4" r="3.8"/><circle cx="301.0" cy="44.2" r="3.8"/><circle cx="308.8" cy="46.8" r="3.8"/><circle cx="316.0" cy="49.2" r="3.8"/><circle cx="325.0" cy="51.8" r="3.8"/><circle cx="290.0" cy="45.0" r="3.6"/><circle cx="294.7" cy="45.8" r="3.6"/><circle cx="299.5" cy="46.5" r="3.6"/><circle cx="304.3" cy="47.0" r="3.6"/><circle cx="306.5" cy="48.0" r="3.6"/><circle cx="309.1" cy="47.7" r="3.6"/><circle cx="311.1" cy="49.2" r="3.6"/><circle cx="313.7" cy="49.0" r="3.6"/><circle cx="315.6" cy="50.8" r="3.6"/><circle cx="318.3" cy="50.3" r="3.6"/><circle cx="320.1" cy="52.5" r="3.6"/><circle cx="323.0" cy="51.5" r="3.6"/><circle cx="324.7" cy="54.1" r="3.6"/><circle cx="327.6" cy="52.7" r="3.6"/><circle cx="329.1" cy="55.8" r="3.6"/><circle cx="332.3" cy="54.0" r="3.6"/><circle cx="333.6" cy="57.5" r="3.6"/><circle cx="337.0" cy="55.5" r="3.6"/><circle cx="337.7" cy="59.7" r="3.6"/><circle cx="341.5" cy="57.3" r="3.6"/><circle cx="342.8" cy="60.1" r="3.6"/><circle cx="339.8" cy="61.0" r="3.6"/><circle cx="346.0" cy="59.2" r="3.6"/><circle cx="347.1" cy="62.3" r="3.6"/><circle cx="343.9" cy="63.2" r="3.6"/><circle cx="350.3" cy="61.3" r="3.6"/><circle cx="351.3" cy="64.5" r="3.6"/><circle cx="348.1" cy="65.5" r="3.6"/><circle cx="354.6" cy="63.4" r="3.6"/><circle cx="355.6" cy="66.8" r="3.6"/><circle cx="352.3" cy="67.9" r="3.6"/><circle cx="359.2" cy="65.9" r="3.6"/><circle cx="359.6" cy="69.4" r="3.6"/><circle cx="356.1" cy="70.1" r="3.6"/><circle cx="363.1" cy="68.7" r="3.6"/><circle cx="363.5" cy="72.2" r="3.6"/><circle cx="360.0" cy="72.9" r="3.6"/><circle cx="367.0" cy="71.5" r="3.6"/><circle cx="367.4" cy="75.0" r="3.6"/><circle cx="363.9" cy="75.7" r="3.6"/><circle cx="371.0" cy="75.1" r="3.6"/><circle cx="370.5" cy="78.6" r="3.6"/><circle cx="367.0" cy="78.4" r="3.6"/><circle cx="374.0" cy="78.9" r="3.6"/><circle cx="373.6" cy="82.3" r="3.6"/><circle cx="370.1" cy="82.1" r="3.6"/><circle cx="377.0" cy="82.6" r="3.6"/><circle cx="376.6" cy="86.0" r="3.6"/><circle cx="373.2" cy="85.7" r="3.6"/><circle cx="379.9" cy="86.2" r="3.6"/><circle cx="379.9" cy="89.5" r="3.6"/><circle cx="376.5" cy="89.4" r="3.6"/><circle cx="383.1" cy="89.8" r="3.6"/><circle cx="383.2" cy="93.0" r="3.6"/><circle cx="380.0" cy="92.8" r="3.6"/><circle cx="386.3" cy="93.4" r="3.6"/><circle cx="385.1" cy="97.9" r="3.6"/><circle cx="389.5" cy="96.5" r="3.6"/><circle cx="389.3" cy="100.7" r="3.6"/><circle cx="393.1" cy="99.7" r="3.6"/><circle cx="393.3" cy="103.4" r="3.6"/><circle cx="397.1" cy="101.7" r="3.6"/><circle cx="398.2" cy="105.2" r="3.6"/><circle cx="401.4" cy="103.9" r="3.6"/><circle cx="402.5" cy="107.2" r="3.6"/><circle cx="405.7" cy="106.0" r="3.6"/><circle cx="406.9" cy="109.2" r="3.6"/><circle cx="410.0" cy="108.1" r="3.6"/><circle cx="411.4" cy="110.9" r="3.6"/><circle cx="414.3" cy="110.0" r="3.6"/><circle cx="416.1" cy="112.4" r="3.6"/><circle cx="418.9" cy="111.3" r="3.6"/><circle cx="420.7" cy="113.8" r="3.6"/><circle cx="423.5" cy="112.7" r="3.6"/><circle cx="425.3" cy="115.1" r="3.6"/><circle cx="428.1" cy="114.1" r="3.6"/><circle cx="429.9" cy="116.5" r="3.6"/><circle cx="432.7" cy="115.5" r="3.6"/><circle cx="434.5" cy="117.9" r="3.6"/><circle cx="437.3" cy="116.9" r="3.6"/><circle cx="439.1" cy="119.3" r="3.6"/><circle cx="441.9" cy="118.1" r="3.6"/><circle cx="443.8" cy="120.5" r="3.6"/><circle cx="446.5" cy="119.4" r="3.6"/><circle cx="448.4" cy="121.8" r="3.6"/><circle cx="451.2" cy="121.2" r="3.6"/><circle cx="452.4" cy="124.0" r="3.6"/><circle cx="455.4" cy="123.6" r="3.6"/><circle cx="456.6" cy="126.4" r="3.6"/><circle cx="458.9" cy="127.2" r="3.6"/><circle cx="459.2" cy="130.1" r="3.6"/><circle cx="461.9" cy="130.9" r="3.6"/><circle cx="462.4" cy="133.7" r="3.6"/><circle cx="463.7" cy="135.7" r="3.6"/><circle cx="463.2" cy="138.4" r="3.6"/><circle cx="465.1" cy="140.4" r="3.6"/><circle cx="464.2" cy="142.9" r="3.6"/><circle cx="465.6" cy="145.1" r="3.6"/><circle cx="464.7" cy="147.6" r="3.6"/><circle cx="466.1" cy="149.9" r="3.6"/><circle cx="465.1" cy="152.4" r="3.6"/><circle cx="465.7" cy="154.8" r="3.6"/><circle cx="464.5" cy="157.1" r="3.6"/><circle cx="465.3" cy="159.6" r="3.6"/><circle cx="464.2" cy="161.9" r="3.6"/><circle cx="465.0" cy="164.4" r="3.6"/><circle cx="464.0" cy="166.7" r="3.6"/><circle cx="463.9" cy="169.1" r="3.6"/><circle cx="463.3" cy="173.9" r="3.6"/></g><text x="30" y="222.60" class="tk">1 x 10<tspan class="sup" dy="-4.2">-2</tspan></text><text x="30" y="202.01" class="tk">1 x 10<tspan class="sup" dy="-4.2">-1</tspan></text><text x="30" y="181.42" class="tk">1 x 10<tspan class="sup" dy="-4.2">+0</tspan></text><text x="30" y="160.83" class="tk">1 x 10<tspan class="sup" dy="-4.2">+1</tspan></text><text x="30" y="140.24" class="tk">1 x 10<tspan class="sup" dy="-4.2">+2</tspan></text><text x="30" y="119.65" class="tk">1 x 10<tspan class="sup" dy="-4.2">+3</tspan></text><text x="30" y="99.06" class="tk">1 x 10<tspan class="sup" dy="-4.2">+4</tspan></text><text x="30" y="78.47" class="tk">1 x 10<tspan class="sup" dy="-4.2">+5</tspan></text><text x="30" y="57.88" class="tk">1 x 10<tspan class="sup" dy="-4.2">+6</tspan></text><text x="30" y="37.29" class="tk">1 x 10<tspan class="sup" dy="-4.2">+7</tspan></text><text x="30" y="16.70" class="tk">1 x 10<tspan class="sup" dy="-4.2">+8</tspan></text><text x="79.80" y="235.6" text-anchor="middle" class="tx">30</text><text x="145.00" y="235.6" text-anchor="middle" class="tx">40</text><text x="210.20" y="235.6" text-anchor="middle" class="tx">50</text><text x="275.40" y="235.6" text-anchor="middle" class="tx">60</text><text x="340.60" y="235.6" text-anchor="middle" class="tx">70</text><text x="405.80" y="235.6" text-anchor="middle" class="tx">80</text><text x="471.00" y="235.6" text-anchor="middle" class="tx">90</text><text x="536.20" y="235.6" text-anchor="middle" class="tx">100</text><text x="310.5" y="254.9" text-anchor="middle" class="ttl">Phase Angle (°)</text><text transform="translate(16.3 128.2) rotate(-90)" text-anchor="middle" class="ttl">Dynamic Modulus (Pa)</text><circle cx="72.6" cy="270.3" r="3.5" fill="#997300"/><text x="79.20" y="274.80" class="lg">Control</text><circle cx="190.6" cy="270.3" r="3.5" fill="#ED7D31"/><text x="197.20" y="274.80" class="lg">5% GPCM</text><circle cx="308.2" cy="270.3" r="3.5" fill="#5B9BD5"/><text x="314.80" y="274.80" class="lg">7% GPCM</text><circle cx="426" cy="270.3" r="3.5" fill="#4472C4"/><text x="432.60" y="274.80" class="lg">5%GPCM 3%SBS</text><circle cx="72.6" cy="287.4" r="3.5" fill="#70AD47"/><text x="79.20" y="291.90" class="lg">7% GPCM 3% SBS</text><circle cx="190.6" cy="287.4" r="3.5" fill="#FFC000"/><text x="197.20" y="291.90" class="lg">PG 70-28</text><circle cx="308.2" cy="287.4" r="3.5" fill="#A5A5A5"/><text x="314.80" y="291.90" class="lg">PCM</text>
</svg>
</body></html>
